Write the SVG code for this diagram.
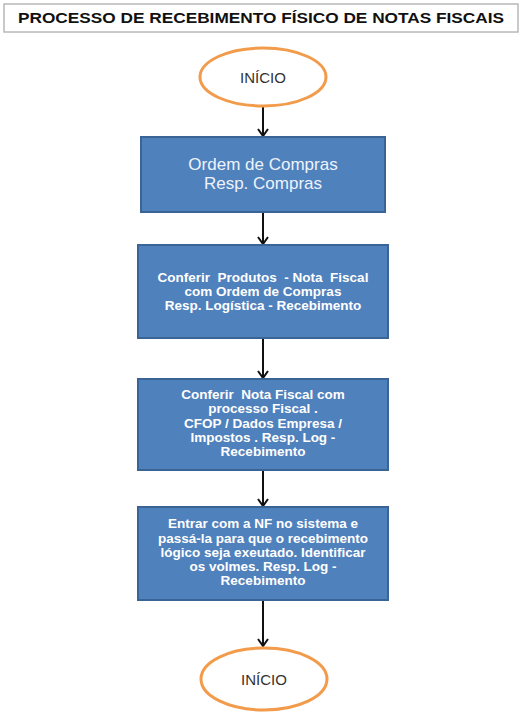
<svg xmlns="http://www.w3.org/2000/svg" width="523" height="718" viewBox="0 0 523 718">
<defs>
<style>
.box{fill:#4F81BD;stroke:#3A6496;stroke-width:2}
.term{fill:#FFFFFF;stroke:#F19B4B;stroke-width:3}
.bt{font-family:"Liberation Sans",Arial,sans-serif;font-size:13.5px;font-weight:bold;fill:#FFFFFF;text-anchor:middle}
.rt{font-family:"Liberation Sans",Arial,sans-serif;font-size:17px;fill:#EEF3FA;text-anchor:middle}
.tt{font-family:"Liberation Sans",Arial,sans-serif;font-size:15px;fill:#333333;text-anchor:middle}
.conn{stroke:#111111;stroke-width:2;fill:none}
</style>
<marker id="arr" markerWidth="12" markerHeight="12" refX="10" refY="6" orient="auto" markerUnits="userSpaceOnUse">
<path d="M3,1 L10,6 L3,11" fill="none" stroke="#111111" stroke-width="2"/>
</marker>
</defs>
<rect width="523" height="718" fill="#FFFFFF"/>
<g id="title">
<rect x="4" y="4" width="514" height="28" fill="#FFFFFF" stroke="#B8B8B8" stroke-width="1.5"/>
<text x="261" y="23" font-family="Liberation Sans,Arial,sans-serif" font-size="15" font-weight="bold" fill="#111111" text-anchor="middle" textLength="486" lengthAdjust="spacingAndGlyphs">PROCESSO DE RECEBIMENTO FÍSICO DE NOTAS FISCAIS</text>
</g>
<g id="connectors">
<line class="conn" x1="263" y1="107" x2="263" y2="136" marker-end="url(#arr)"/>
<line class="conn" x1="263" y1="212" x2="263" y2="244" marker-end="url(#arr)"/>
<line class="conn" x1="263" y1="338" x2="263" y2="378" marker-end="url(#arr)"/>
<line class="conn" x1="263" y1="470" x2="263" y2="506" marker-end="url(#arr)"/>
<line class="conn" x1="263" y1="600" x2="263" y2="646" marker-end="url(#arr)"/>
</g>
<g id="start">
<ellipse class="term" cx="263" cy="77" rx="63" ry="29"/>
<text class="tt" x="263" y="83">INÍCIO</text>
</g>
<g id="step1">
<rect class="box" x="141" y="137" width="244" height="75"/>
<text class="rt" x="263" y="170">Ordem de Compras</text>
<text class="rt" x="263" y="189">Resp. Compras</text>
</g>
<g id="step2">
<rect class="box" x="138" y="245" width="250" height="93"/>
<text class="bt" x="263" y="282" xml:space="preserve">Conferir  Produtos  - Nota  Fiscal</text>
<text class="bt" x="263" y="296">com Ordem de Compras</text>
<text class="bt" x="263" y="310">Resp. Logística - Recebimento</text>
</g>
<g id="step3">
<rect class="box" x="138" y="379" width="250" height="91"/>
<text class="bt" x="263" y="399" xml:space="preserve">Conferir  Nota Fiscal com</text>
<text class="bt" x="263" y="413">processo Fiscal .</text>
<text class="bt" x="263" y="428">CFOP / Dados Empresa /</text>
<text class="bt" x="263" y="442">Impostos . Resp. Log -</text>
<text class="bt" x="263" y="456">Recebimento</text>
</g>
<g id="step4">
<rect class="box" x="138" y="507" width="250" height="93"/>
<text class="bt" x="263" y="528">Entrar com a NF no sistema e</text>
<text class="bt" x="263" y="543">passá-la para que o recebimento</text>
<text class="bt" x="263" y="557">lógico seja exeutado. Identificar</text>
<text class="bt" x="263" y="571">os volmes. Resp. Log -</text>
<text class="bt" x="263" y="585">Recebimento</text>
</g>
<g id="end">
<ellipse class="term" cx="264" cy="679" rx="63" ry="31"/>
<text class="tt" x="264" y="685">INÍCIO</text>
</g>
</svg>
